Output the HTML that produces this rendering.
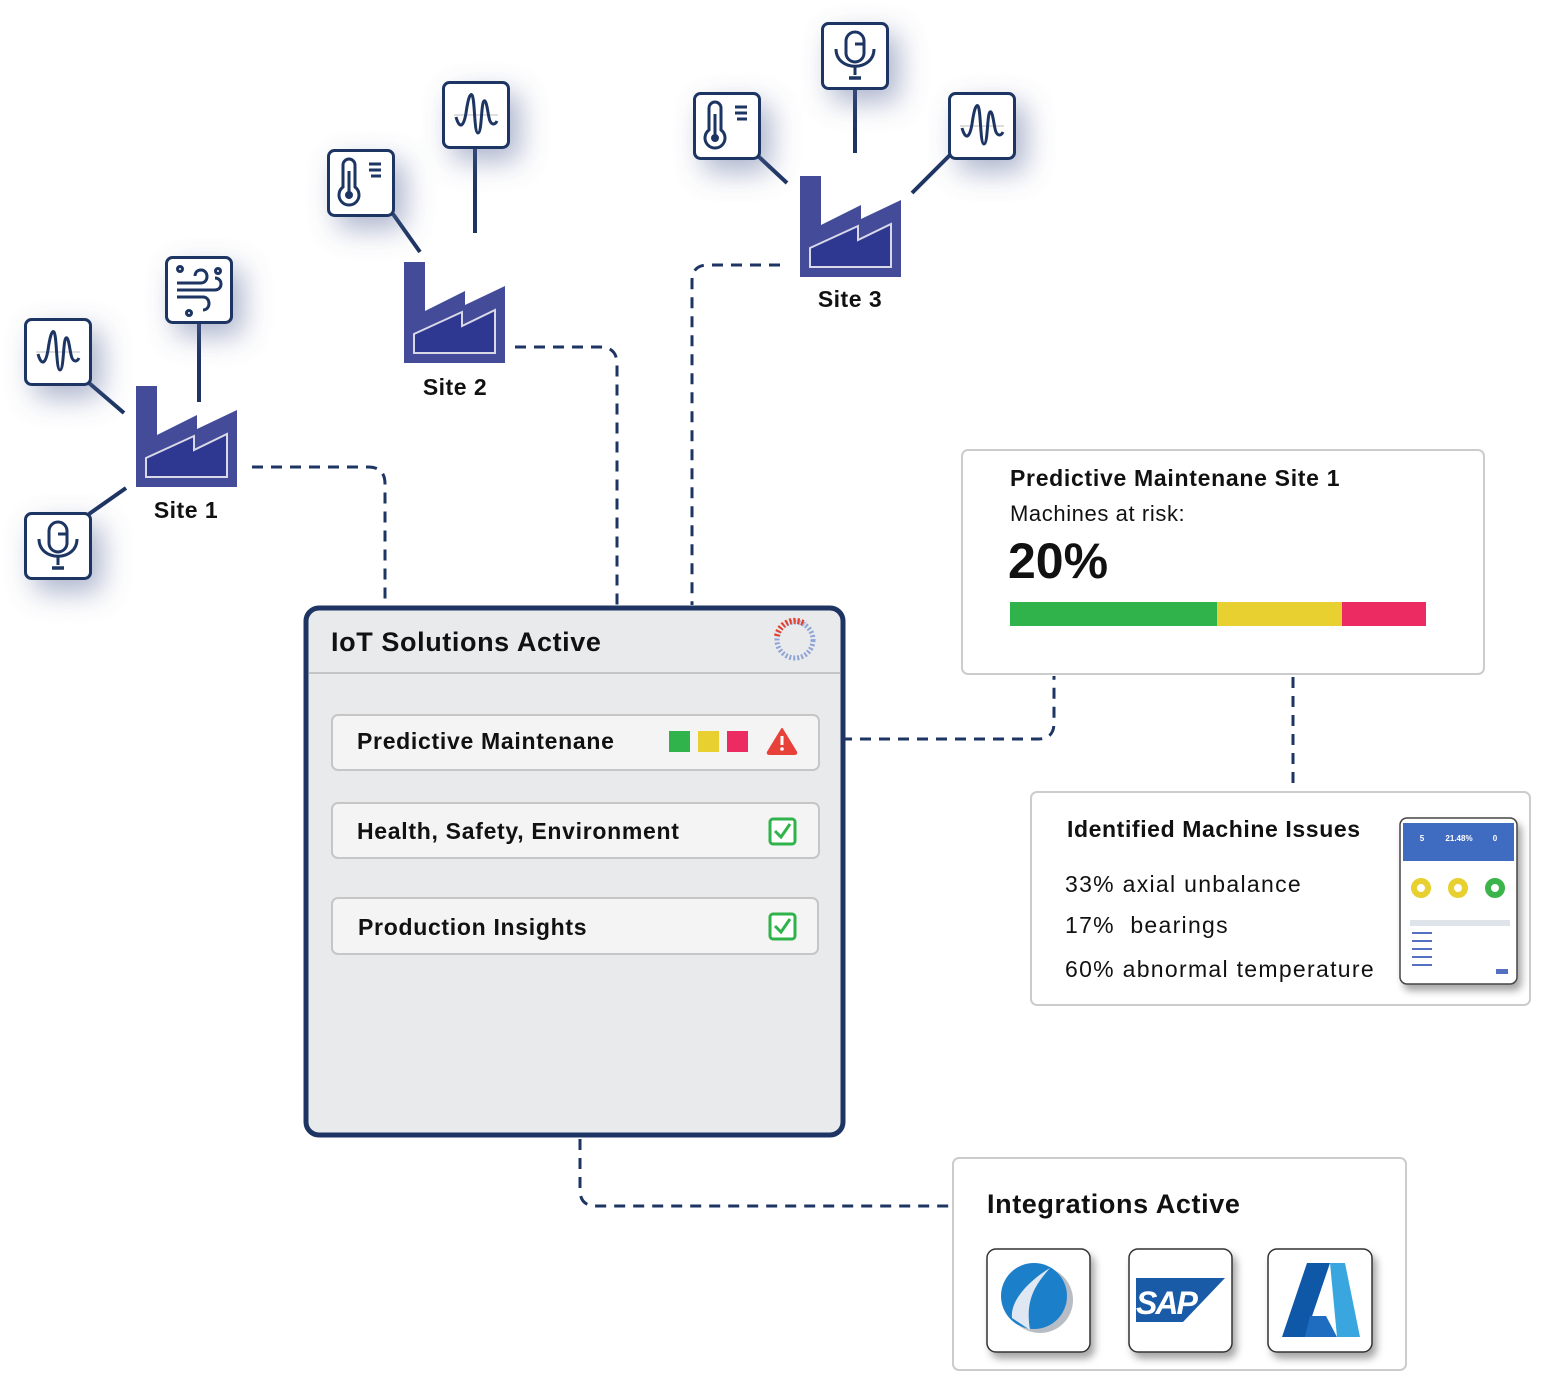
<!DOCTYPE html>
<html><head><meta charset="utf-8"><style>
html,body{margin:0;padding:0;background:#fff;}
body{width:1542px;height:1379px;position:relative;overflow:hidden;font-family:"Liberation Sans",sans-serif;}
svg{position:absolute;left:0;top:0;}
</style></head><body>
<svg width="1542" height="1379" viewBox="0 0 1542 1379" xmlns="http://www.w3.org/2000/svg">
<defs>
<filter id="sh" x="-80%" y="-80%" width="260%" height="260%">
<feGaussianBlur in="SourceAlpha" stdDeviation="14"/>
<feOffset dx="10" dy="12" result="b"/>
<feFlood flood-color="#5a6a9a" flood-opacity="0.5"/>
<feComposite in2="b" operator="in"/>
<feMerge><feMergeNode/><feMergeNode in="SourceGraphic"/></feMerge>
</filter>
<filter id="sh2" x="-30%" y="-30%" width="160%" height="160%">
<feGaussianBlur in="SourceAlpha" stdDeviation="4"/>
<feOffset dx="4" dy="6" result="b"/>
<feFlood flood-color="#000" flood-opacity="0.35"/>
<feComposite in2="b" operator="in"/>
<feMerge><feMergeNode/><feMergeNode in="SourceGraphic"/></feMerge>
</filter>
<g id="box"><rect x="1.5" y="1.5" width="65" height="65" rx="6" fill="#fff" stroke="#1e3563" stroke-width="3"/></g>
<g id="wave" fill="none" stroke="#1e3563"><use href="#box"/>
<path d="M12,34 L56,34" stroke="#bbb" stroke-width="1"/>
<path d="M14,36 C18,50 22,44 24,32 C26,18 28,12 30,14 C33,18 32,52 36,52 C40,52 39,22 42,20 C45,18 46,36 48,40 C50,44 53,44 55,40" stroke-width="3"/></g>
<g id="thermo" fill="none" stroke="#1e3563" stroke-width="3"><use href="#box"/>
<path d="M16,38 L16,16 A6,6 0 0 1 28,16 L28,38 A10,10 0 1 1 16,38 Z"/>
<line x1="22" y1="22" x2="22" y2="44"/><circle cx="22" cy="46" r="2.5" fill="#1e3563"/>
<line x1="42" y1="15" x2="54" y2="15"/><line x1="42" y1="21" x2="54" y2="21"/><line x1="44" y1="27" x2="54" y2="27"/></g>
<g id="mic" fill="none" stroke="#1e3563" stroke-width="3"><use href="#box"/>
<rect x="25" y="10" width="18" height="30" rx="9"/>
<line x1="34" y1="22" x2="42" y2="22"/>
<path d="M15,27 C15,50 53,50 53,27"/>
<line x1="34" y1="45" x2="34" y2="53"/><line x1="28" y1="56" x2="40" y2="56" stroke-width="3.5"/></g>
<g id="wind" fill="none" stroke="#1e3563" stroke-width="3"><use href="#box"/>
<circle cx="15" cy="13" r="2.5"/><circle cx="53" cy="15" r="2.5"/><circle cx="24" cy="57" r="2.5"/>
<path d="M12,27 L36,27 C44,27 44,14 36,14 C31,14 30,18 30,20"/>
<path d="M12,34 L50,34 C58,34 58,22 50,22"/>
<path d="M12,41 L38,41 C46,41 46,54 38,54"/></g>
<g id="factory"><path d="M0,0 L21,0 L21,49 L61,29 L61,43 L101,24 L101,101 L0,101 Z" fill="#444c99"/>
<path d="M10,91 L10,72 L58,50 L58,64 L91,48 L91,91 Z" fill="#2e3890" stroke="#d8d8e8" stroke-width="2"/></g>
</defs>

<g fill="none" stroke="#1e3563" stroke-width="3" stroke-dasharray="11 8">
<path d="M252,467 L368,467 Q385,467 385,484 L385,600"/>
<path d="M515,347 L600,347 Q617,347 617,364 L617,605"/>
<path d="M780,265 L708,265 Q692,265 692,281 L692,605"/>
<path d="M822,739 L1038,739 Q1054,739 1054,723 L1054,676"/>
<path d="M1293,677 L1293,790"/>
<path d="M580,1139 L580,1190 Q580,1206 596,1206 L952,1206"/>
</g>

<g stroke="#1e3563" stroke-width="4">
<line x1="89" y1="383" x2="124" y2="413"/>
<line x1="199" y1="322" x2="199" y2="402"/>
<line x1="89" y1="514" x2="126" y2="488"/>
<line x1="393" y1="214" x2="420" y2="252"/>
<line x1="475" y1="146" x2="475" y2="233"/>
<line x1="758" y1="156" x2="787" y2="183"/>
<line x1="855" y1="88" x2="855" y2="153"/>
<line x1="950" y1="155" x2="912" y2="193"/>
</g>

<g filter="url(#sh)">
<use href="#wave" x="24" y="318"/>
<use href="#wind" x="165" y="256"/>
<use href="#mic" x="24" y="512"/>
<use href="#thermo" x="327" y="149"/>
<use href="#wave" x="442" y="81"/>
<use href="#thermo" x="693" y="92"/>
<use href="#mic" x="821" y="22"/>
<use href="#wave" x="948" y="92"/>
</g>

<use href="#factory" x="136" y="386"/>
<use href="#factory" x="404" y="262"/>
<use href="#factory" x="800" y="176"/>
<g font-weight="bold" font-size="23" fill="#111" text-anchor="middle" letter-spacing="0.5">
<text x="186" y="518">Site 1</text>
<text x="455" y="395">Site 2</text>
<text x="850" y="307">Site 3</text>
</g>

<rect x="306" y="608" width="537" height="527" rx="13" fill="#e9eaec" stroke="#1e3563" stroke-width="5"/>
<line x1="309" y1="673" x2="840" y2="673" stroke="#c4c4c4" stroke-width="2"/>
<text x="331" y="651" font-size="27" font-weight="bold" fill="#111" letter-spacing="0.6">IoT Solutions Active</text>
<g>
<circle cx="795" cy="640" r="18" fill="none" stroke="#8fa3d6" stroke-width="5" stroke-dasharray="2 2"/>
<path d="M777,636 A18,18 0 0 1 805,624" fill="none" stroke="#e6402f" stroke-width="6" stroke-dasharray="2 2"/>
</g>
<g fill="#f4f4f5" stroke="#c6c6c6" stroke-width="2">
<rect x="332" y="715" width="487" height="55" rx="6"/>
<rect x="332" y="803" width="487" height="55" rx="6"/>
<rect x="332" y="898" width="486" height="56" rx="6"/>
</g>
<g font-size="23" font-weight="bold" fill="#111" letter-spacing="0.7">
<text x="357" y="749">Predictive Maintenane</text>
<text x="357" y="839">Health, Safety, Environment</text>
<text x="358" y="935">Production Insights</text>
</g>
<rect x="669" y="731" width="21" height="21" fill="#2fb34a"/>
<rect x="698" y="731" width="21" height="21" fill="#e8d030"/>
<rect x="727" y="731" width="21" height="21" fill="#ec2b62"/>
<path d="M782,729 L796,752 Q797,754 794,754 L770,754 Q767,754 768,752 Z" fill="#e8413a" stroke="#e8413a" stroke-width="2" stroke-linejoin="round"/>
<line x1="782" y1="736" x2="782" y2="745" stroke="#fff" stroke-width="3"/><circle cx="782" cy="749" r="1.8" fill="#fff"/>
<g fill="#fff" stroke="#2fb34a" stroke-width="3">
<rect x="770" y="819" width="25" height="25" rx="3"/>
<rect x="770" y="914" width="25" height="25" rx="3"/>
</g>
<g fill="none" stroke="#2fb34a" stroke-width="3">
<path d="M775,831 L781,837 L790,824"/>
<path d="M775,926 L781,932 L790,919"/>
</g>

<rect x="962" y="450" width="522" height="224" rx="6" fill="#fff" stroke="#cccccc" stroke-width="2"/>
<text x="1010" y="486" font-size="23" font-weight="bold" fill="#111" letter-spacing="0.7">Predictive Maintenane Site 1</text>
<text x="1010" y="521" font-size="22" fill="#111" letter-spacing="0.6">Machines at risk:</text>
<text x="1008" y="578" font-size="50" font-weight="bold" fill="#111">20%</text>
<rect x="1010" y="602" width="207" height="24" fill="#2fb34a"/>
<rect x="1217" y="602" width="125" height="24" fill="#e8d030"/>
<rect x="1342" y="602" width="84" height="24" fill="#ec2b62"/>

<rect x="1031" y="792" width="499" height="213" rx="6" fill="#fff" stroke="#cccccc" stroke-width="2"/>
<text x="1067" y="837" font-size="23" font-weight="bold" fill="#111" letter-spacing="0.6">Identified Machine Issues</text>
<g font-size="23" fill="#111" letter-spacing="1.3">
<text x="1065" y="892">33% axial unbalance</text>
<text x="1065" y="933">17%&#160; bearings</text>
<text x="1065" y="977">60% abnormal temperature</text>
</g>
<g filter="url(#sh2)">
<rect x="1400" y="818" width="117" height="166" rx="7" fill="#fff" stroke="#444" stroke-width="1.5"/>
</g>
<rect x="1403" y="823" width="111" height="38" fill="#3f6cc0"/>
<g fill="#fff" font-size="8" font-weight="bold" text-anchor="middle">
<text x="1422" y="841">5</text><text x="1459" y="841">21.48%</text><text x="1495" y="841">0</text>
</g>
<g stroke-width="6" fill="none">
<circle cx="1421" cy="888" r="7" stroke="#e8d030"/>
<circle cx="1458" cy="888" r="7" stroke="#e8d030"/>
<circle cx="1495" cy="888" r="7" stroke="#3bb54a"/>
</g>
<g fill="#dfe3ea">
<rect x="1410" y="920" width="100" height="6"/>
</g>
<g fill="#5570c0">
<rect x="1412" y="932" width="20" height="2"/><rect x="1412" y="940" width="20" height="2"/><rect x="1412" y="948" width="20" height="2"/><rect x="1412" y="956" width="20" height="2"/><rect x="1412" y="964" width="20" height="2"/>
<rect x="1496" y="969" width="12" height="5"/>
</g>

<rect x="953" y="1158" width="453" height="212" rx="6" fill="#fff" stroke="#cccccc" stroke-width="2"/>
<text x="987" y="1213" font-size="27" font-weight="bold" fill="#111" letter-spacing="0.6">Integrations Active</text>
<g filter="url(#sh2)" fill="#fff" stroke="#333" stroke-width="1.5">
<rect x="987" y="1249" width="103" height="103" rx="9"/>
<rect x="1129" y="1249" width="103" height="103" rx="9"/>
<rect x="1268" y="1249" width="104" height="103" rx="9"/>
</g>
<circle cx="1040" cy="1300" r="33" fill="#b8bcc4"/>
<circle cx="1034" cy="1296" r="33" fill="#1c7fc9"/>
<path d="M1012,1318 C1010,1300 1030,1280 1050,1268 C1035,1285 1025,1300 1030,1330 Z" fill="#dfe8f2"/>
<polygon points="1136,1278 1225,1278 1183,1322 1136,1322" fill="#1a5ba8"/>
<text x="1136" y="1314" font-size="32" font-weight="bold" fill="#fff" font-style="italic" letter-spacing="-2">SAP</text>
<polygon points="1307,1263 1330,1263 1305,1337 1282,1337" fill="#0f58a8"/>
<polygon points="1330,1263 1345,1263 1360,1337 1337,1337" fill="#3aa6e0"/>
<polygon points="1305,1337 1337,1337 1326,1316 1310,1316" fill="#1f6dc0"/>
</svg>
</body></html>
